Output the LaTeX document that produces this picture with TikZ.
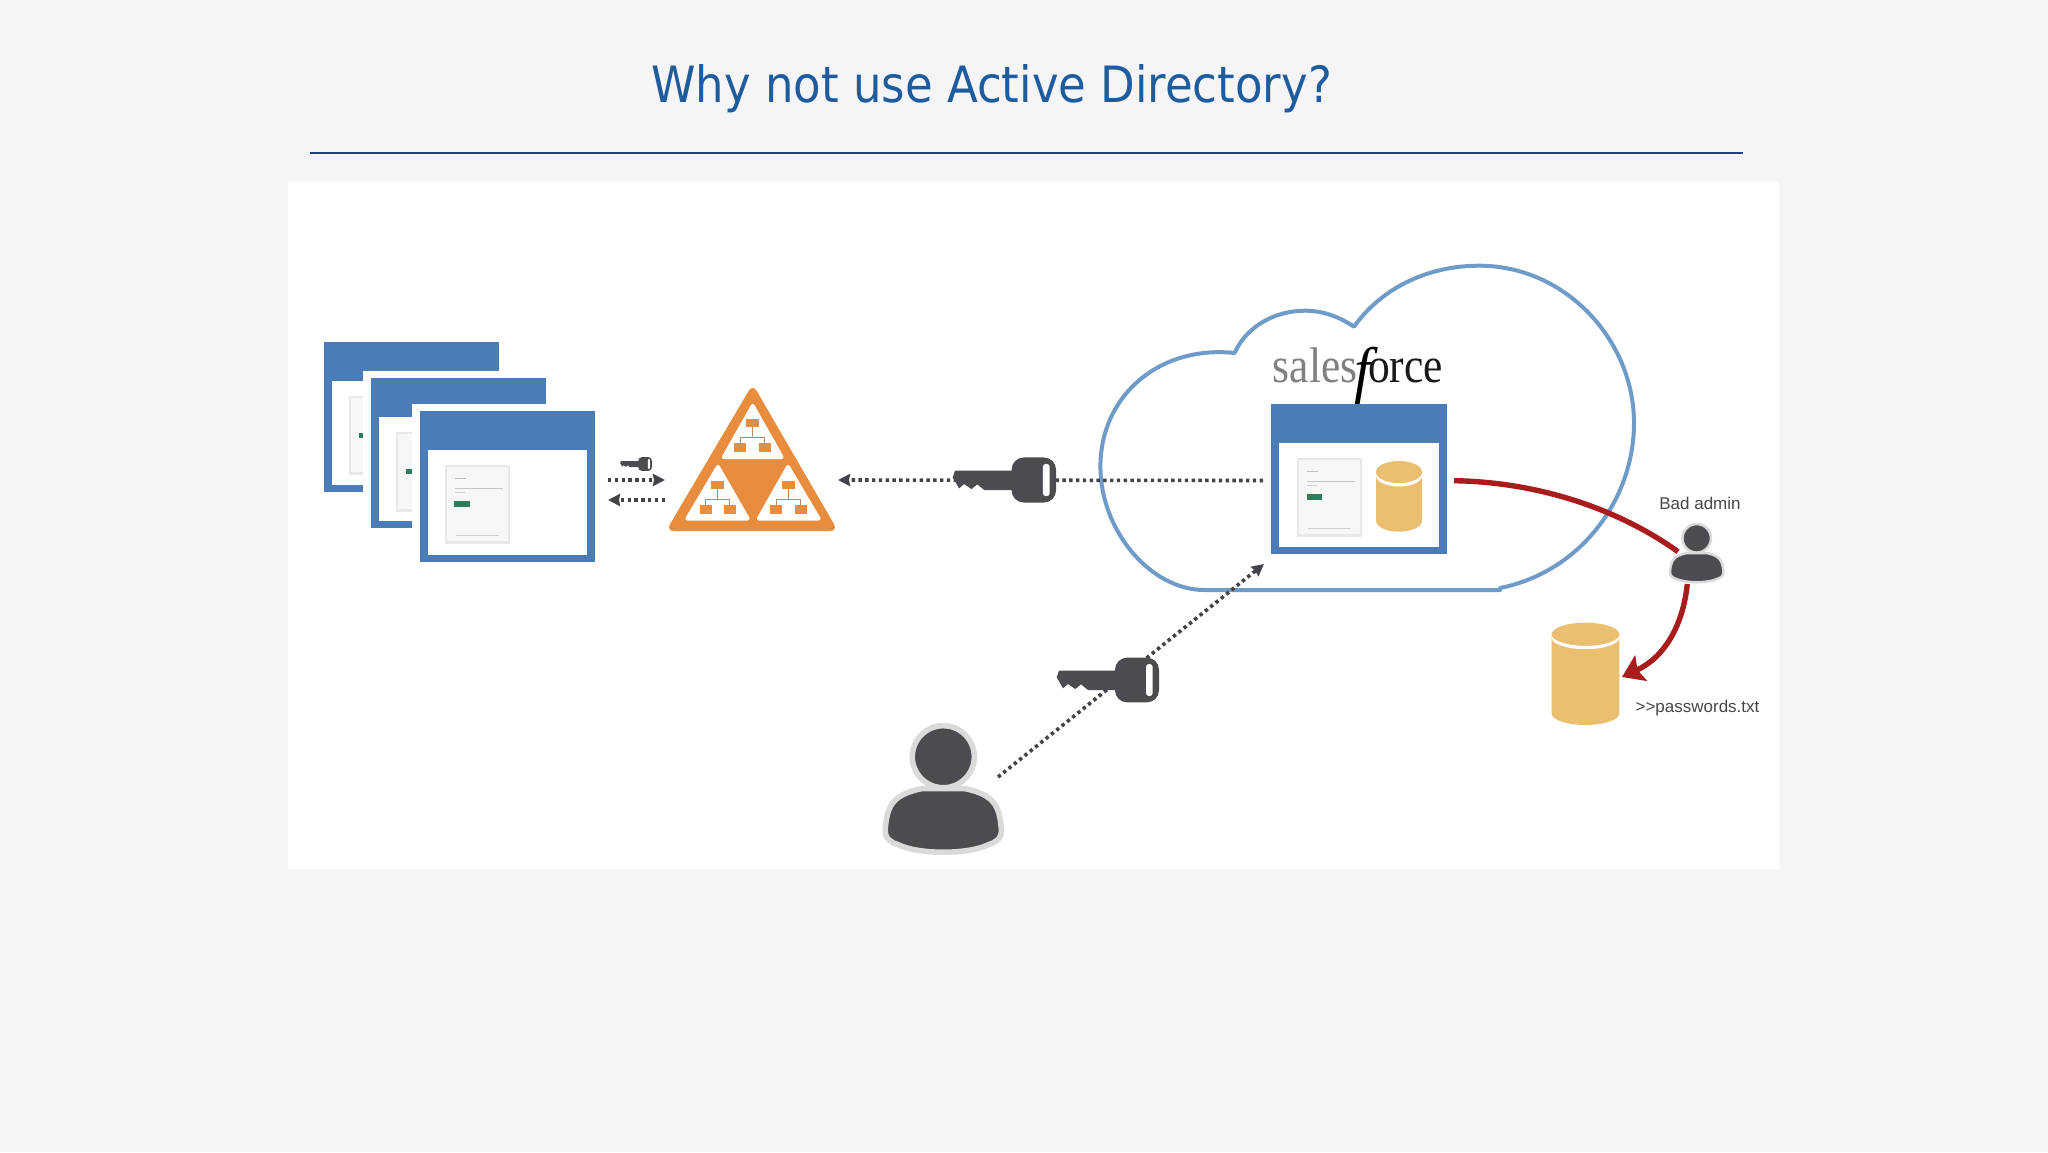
\documentclass[tikz,border=0pt]{standalone}
\usepackage{fontspec}
\setmainfont{Liberation Sans}
\newfontfamily\titlefont{DejaVu Sans}
\newfontfamily\logofont{Liberation Serif}
\usetikzlibrary{arrows.meta}
\definecolor{pagebg}{HTML}{F5F5F7}
\definecolor{titleblue}{HTML}{1F5C9E}
\definecolor{rulenavy}{HTML}{1F3F8A}
\definecolor{winblue}{HTML}{4A7DB7}
\definecolor{cloudblue}{HTML}{6F9BC9}
\definecolor{orgorange}{HTML}{E88D3E}
\definecolor{dbgold}{HTML}{EABF72}
\definecolor{iconDark}{HTML}{4B4B50}
\definecolor{badred}{HTML}{A81C1C}
\definecolor{haloGray}{HTML}{DADADA}
\definecolor{btngreen}{HTML}{2E7D5B}
\tikzset{
  dotline/.style={draw=iconDark!90!black,line width=3.6pt,dash pattern=on 3.4pt off 3.4pt},
  dotarrow/.style={dotline,-{Stealth[length=12pt,width=12pt,inset=1pt]}},
  redline/.style={draw=badred,line width=5.4pt},
  labeltext/.style={text=black!72,inner sep=0pt,font=\fontsize{17}{20}\selectfont},
}
% window: x0,y0,x1,y1,title bottom,border
\newcommand{\appwindow}[6]{%
  \fill[winblue] (#1,#2) rectangle (#3,#4);
  \fill[white] (#1+#6,#5) rectangle (#3-#6,#4-#6*0.9);
}
% login card: x0,y0,x1,y1
\newcommand{\logincard}[4]{%
  \fill[black!9] (#1-1,#2-1) rectangle (#3+1,#4+2);
  \fill[black!3] (#1+1,#2+1) rectangle (#3-1,#4-1);
}
\newcommand{\cardmarks}[4]{%
  \fill[black!25] (#1+9,#2+12) rectangle ++(11,1.2);
  \fill[black!22] (#1+9,#2+22) rectangle (#3-6,#2+23);
  \fill[black!18] (#1+9,#2+26) rectangle ++(10,1);
  \fill[black!18] (#1+10,#4-7) rectangle (#3-10,#4-6);
}
% cylinder: left,right,top,bottom,ry
\newcommand{\dbcyl}[5]{%
  \fill[dbgold] (#1,#3+#5) -- (#1,#4-#5) arc[start angle=180,end angle=0,x radius={(#2-#1)/2},y radius=#5] -- (#2,#3+#5) -- cycle;
  \fill[white] (#1,#3+#5) arc[start angle=180,end angle=0,x radius={(#2-#1)/2},y radius=#5] -- (#2,#3+#5+3.5) arc[start angle=0,end angle=180,x radius={(#2-#1)/2},y radius=#5] -- cycle;
  \fill[dbgold] ({(#1+#2)/2},#3+#5) ellipse[x radius={(#2-#1)/2},y radius=#5];
}
% key: left end, centre y, scale
\newcommand{\keyicon}[3]{%
  \begin{scope}[shift={(#1,#2)},scale=#3]
    \fill[iconDark] (0.7,-2.7) -- (3,-9.3) -- (62,-9.3) -- (62,10) -- (32,10) -- (25,4.3) -- (19.3,9) -- (12,4) -- (7,8.3) -- cycle;
    \fill[iconDark,rounded corners=#3*12pt] (59,-22.3) rectangle (103,22.3);
    \fill[white,rounded corners=#3*3pt] (90,-16) rectangle (96.7,16);
  \end{scope}
}
% person: head centre, scale, halo width
\newcommand{\personicon}[4]{%
  \begin{scope}[shift={(#1,#2)},scale=#3]
    \path[fill=iconDark,draw=haloGray,line width=#4pt,line join=round]
      (-58,72) .. controls (-56,48) and (-50,38) .. (-22,32) -- (22,32)
      .. controls (50,38) and (56,48) .. (58,72)
      .. controls (59,82) and (52,86) .. (45,88)
      .. controls (25,98) and (-25,98) .. (-45,88)
      .. controls (-52,86) and (-59,82) .. (-58,72) -- cycle;
    \path[fill=iconDark,draw=haloGray,line width=#4pt] (0,0) circle[radius=31];
  \end{scope}
}
% org chart: centre x, top y, scale
\newcommand{\orgchart}[3]{%
  \begin{scope}[shift={(#1,#2)},scale=#3]
    \fill[orgorange] (-6.5,0) rectangle (6.5,8);
    \fill[orgorange] (-18.3,24) rectangle (-6.3,33);
    \fill[orgorange] (6,24) rectangle (18,33);
    \draw[orgorange!70!gray,line width=0.9pt] (0,8) -- (0,18) (-12,24) -- (-12,18) -- (12,18) -- (12,24);
  \end{scope}
}
\begin{document}
\begin{tikzpicture}[x=1pt,y=-1pt]
\useasboundingbox (0,0) rectangle (2048,1152);
\fill[pagebg] (0,0) rectangle (2048,1152);
\node[text=titleblue,inner sep=0pt,anchor=base] (title) at (991.5,102) {\titlefont\fontsize{50}{60}\selectfont\scalebox{0.9}[1]{Why not use Active Directory?}};
\coordinate (ruleL) at (310,153);
\coordinate (ruleR) at (1743,153);
\draw[rulenavy,line width=1.6pt] (ruleL) -- (ruleR);
\fill[white] (288,182) rectangle (1779,869);

% stacked windows
\appwindow{324}{341.7}{499}{492}{380.7}{8}
\logincard{350}{396.7}{372}{473}
\fill[btngreen] (358.5,432.7) rectangle (368,438);
\fill[white] (363,370.7) rectangle (554,536);
\appwindow{371}{378}{546}{528}{417}{8}
\logincard{397}{433}{420}{510}
\fill[btngreen] (406,469) rectangle (416,474);
\fill[white] (412,404) rectangle (603,570);
\appwindow{420}{411.3}{595}{561.7}{450.3}{8}
\logincard{446}{465.7}{509}{541.7}
\cardmarks{446}{465.7}{509}{541.7}
\fill[btngreen] (454,501) rectangle (470,507);

% small key and arrows
\keyicon{620}{464}{0.31}
\coordinate (a1s) at (608,480);
\coordinate (a1e) at (665,480);
\coordinate (a2s) at (665,500);
\coordinate (a2e) at (608,500);
\draw[dotarrow] (a1s) -- (a1e);
\draw[dotarrow] (a2s) -- (a2e);

% org triangle
\fill[orgorange,rounded corners=8pt] (752.7,384) -- (666,531) -- (838,531) -- cycle;
\fill[white,rounded corners=3.5pt] (752.7,402) -- (720.5,459) -- (785,459) -- cycle;
\fill[white,rounded corners=3.5pt] (718,463) -- (684,520.5) -- (751,520.5) -- cycle;
\fill[white,rounded corners=3.5pt] (788,463) -- (755.5,520.5) -- (822,520.5) -- cycle;
\orgchart{752.7}{419.3}{1}
\orgchart{717.8}{481}{1}
\orgchart{788.5}{481}{1}

% cloud
\draw[cloudblue,line width=4pt,line join=round]
  (1204.6,590) -- (1500,590) -- (1500,588)
  .. controls (1580,572) and (1634,500) .. (1634,423)
  .. controls (1634,340) and (1565,265) .. (1478,265.7)
  .. controls (1425,266) and (1380,290) .. (1354,326.7)
  .. controls (1338,316) and (1322,310.7) .. (1305,310.7)
  .. controls (1272,311) and (1246,328) .. (1234.5,353)
  .. controls (1160,345) and (1100.4,395) .. (1100.4,466.7)
  .. controls (1100.4,530) and (1150,590) .. (1204.6,590) -- cycle;

% salesforce
\node[inner sep=0pt,anchor=base] (sflogo) at (1358,382.7) {\logofont\scalebox{0.87}[1]{\fontsize{50}{52}\selectfont\textcolor{black!50}{sales}\kern-4pt\raisebox{-9pt}{\scalebox{1.1}[1]{\fontsize{63}{70}\selectfont\itshape f}}\kern-3pt\textcolor{black!90}{orce}}};
\appwindow{1271}{404}{1446.6}{554.3}{442.7}{7.6}
\logincard{1298}{459}{1361}{535}
\cardmarks{1298}{459}{1361}{535}
\fill[btngreen] (1306.7,494) rectangle (1322,500);
\dbcyl{1376}{1422}{461}{531.7}{11}

% long dotted connector through key
\coordinate (sfw) at (1263,480.5);
\coordinate (orge) at (838,480);
\draw[dotarrow] (sfw) -- (orge);
\keyicon{952}{480}{1.01}

% user
\personicon{943.3}{756.7}{1}{5.5}
\coordinate (uo) at (998,777);
\coordinate (sfin) at (1264,564);
\draw[dotarrow] (uo) -- (sfin);
\keyicon{1056}{680}{1}

% bad admin
\node[labeltext] (badlbl) at (1700,503.5) {Bad admin};
\coordinate (redS) at (1454,480.7);
\coordinate (redE) at (1678,551.7);
\draw[redline] (redS) .. controls (1540,482) and (1620,510) .. (redE);
\personicon{1696.7}{538.3}{0.46}{2.5}
\dbcyl{1551.7}{1619.3}{622.7}{725}{11.5}
\coordinate (red2S) at (1687.3,584);
\coordinate (red2E) at (1622,677);
\draw[redline,-{Stealth[length=21pt,width=28pt,inset=4pt]}] (red2S) .. controls (1683,625) and (1665,657) .. (red2E);
\node[labeltext] (pwlbl) at (1697.5,708) {>{}>passwords.txt};
\end{tikzpicture}
\end{document}
